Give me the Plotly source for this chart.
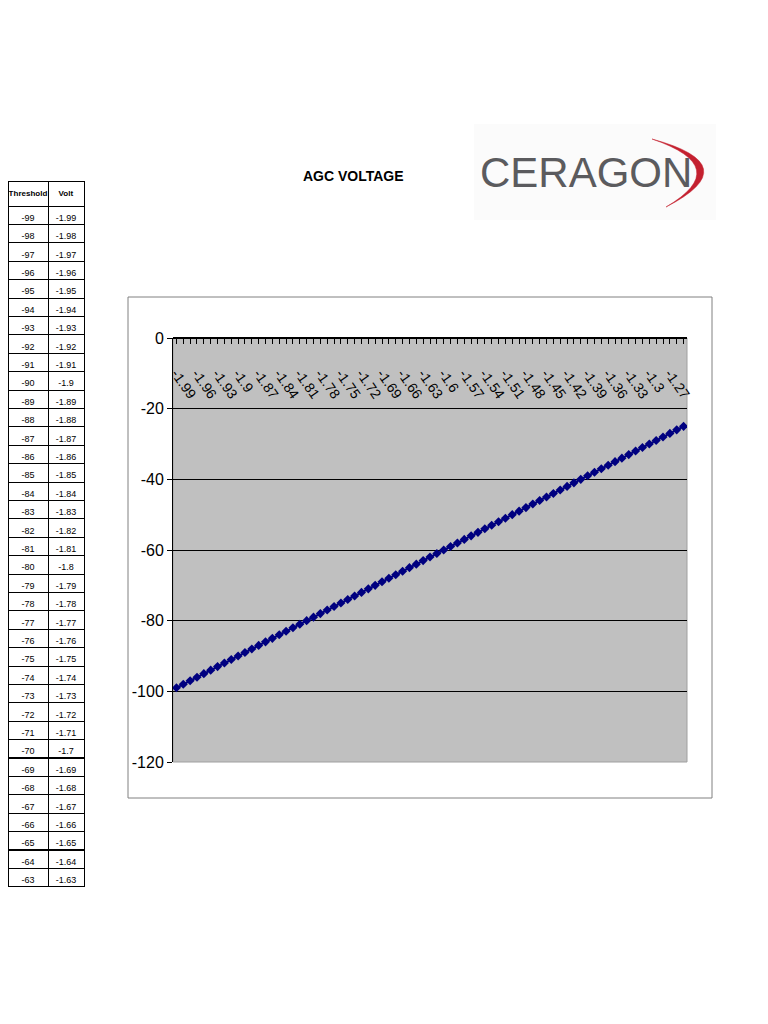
"""AGC voltage chart with threshold table and logo"""
import plotly.graph_objects as go

# chart series: volt category vs threshold
volt_cats = [
    "-1.99", "-1.98", "-1.97", "-1.96", "-1.95", "-1.94", "-1.93", "-1.92", "-1.91", "-1.9",
    "-1.89", "-1.88", "-1.87", "-1.86", "-1.85", "-1.84", "-1.83", "-1.82", "-1.81", "-1.8",
    "-1.79", "-1.78", "-1.77", "-1.76", "-1.75", "-1.74", "-1.73", "-1.72", "-1.71", "-1.7",
    "-1.69", "-1.68", "-1.67", "-1.66", "-1.65", "-1.64", "-1.63", "-1.62", "-1.61", "-1.6",
    "-1.59", "-1.58", "-1.57", "-1.56", "-1.55", "-1.54", "-1.53", "-1.52", "-1.51", "-1.5",
    "-1.49", "-1.48", "-1.47", "-1.46", "-1.45", "-1.44", "-1.43", "-1.42", "-1.41", "-1.4",
    "-1.39", "-1.38", "-1.37", "-1.36", "-1.35", "-1.34", "-1.33", "-1.32", "-1.31", "-1.3",
    "-1.29", "-1.28", "-1.27", "-1.26", "-1.25",
]
threshold_vals = [
    -99, -98, -97, -96, -95, -94, -93, -92, -91, -90,
    -89, -88, -87, -86, -85, -84, -83, -82, -81, -80,
    -79, -78, -77, -76, -75, -74, -73, -72, -71, -70,
    -69, -68, -67, -66, -65, -64, -63, -62, -61, -60,
    -59, -58, -57, -56, -55, -54, -53, -52, -51, -50,
    -49, -48, -47, -46, -45, -44, -43, -42, -41, -40,
    -39, -38, -37, -36, -35, -34, -33, -32, -31, -30,
    -29, -28, -27, -26, -25,
]
x_labels = [
    "-1.99", "-1.96", "-1.93", "-1.9", "-1.87", "-1.84", "-1.81", "-1.78", "-1.75",
    "-1.72", "-1.69", "-1.66", "-1.63", "-1.6", "-1.57", "-1.54", "-1.51", "-1.48",
    "-1.45", "-1.42", "-1.39", "-1.36", "-1.33", "-1.3", "-1.27",
]
y_ticks = [-120, -100, -80, -60, -40, -20, 0]
y_tick_text = ["-120", "-100", "-80", "-60", "-40", "-20", "0"]

# side table
table_threshold = [
    -99, -98, -97, -96, -95, -94, -93, -92, -91, -90, -89, -88, -87, -86, -85, -84,
    -83, -82, -81, -80, -79, -78, -77, -76, -75, -74, -73, -72, -71, -70, -69, -68,
    -67, -66, -65, -64, -63,
]
table_volt = [
    "-1.99", "-1.98", "-1.97", "-1.96", "-1.95", "-1.94", "-1.93", "-1.92", "-1.91", "-1.9",
    "-1.89", "-1.88", "-1.87", "-1.86", "-1.85", "-1.84", "-1.83", "-1.82", "-1.81", "-1.8",
    "-1.79", "-1.78", "-1.77", "-1.76", "-1.75", "-1.74", "-1.73", "-1.72", "-1.71", "-1.7",
    "-1.69", "-1.68", "-1.67", "-1.66", "-1.65", "-1.64", "-1.63",
]

W, H = 768, 1024
OFF = 8  # page body margin
FONT = "Liberation Sans, Arial, sans-serif"


def px(x):
    return max(0, (x - OFF) / W)


def py(y):
    return 1 - (y - OFF) / H


plot_x = [px(173), px(687)]
plot_y = [py(762), py(338)]

fig = go.Figure()

fig.add_trace(go.Table(
    domain=dict(x=[0, px(84)], y=[py(900), py(181)]),
    columnwidth=[40, 36],
    header=dict(
        values=["<b>Threshold</b>", "<b>Volt</b>"],
        height=18,
        line=dict(color="black", width=1),
        fill_color="white",
        font=dict(family=FONT, size=8, color="black"),
        align="center",
    ),
    cells=dict(
        values=[table_threshold, table_volt],
        height=18.4,
        line=dict(color="black", width=1),
        fill_color="white",
        font=dict(family=FONT, size=9, color="black"),
        align="center",
    ),
))

fig.add_trace(go.Scatter(
    x=volt_cats,
    y=threshold_vals,
    mode="lines+markers",
    line=dict(color="#000080", width=2),
    marker=dict(symbol="diamond", size=7, color="#000080"),
    hoverinfo="skip",
    showlegend=False,
))

label_set = set(x_labels)
fig.update_xaxes(
    type="category",
    categoryorder="array",
    categoryarray=volt_cats,
    domain=plot_x,
    anchor="free",
    position=plot_y[1],
    side="bottom",
    automargin=False,
    range=[-0.5, len(volt_cats) - 0.5],
    tickmode="array",
    tickvals=volt_cats,
    ticktext=[c if c in label_set else "" for c in volt_cats],
    tickangle=55,
    ticks="outside",
    ticklen=5,
    tickcolor="black",
    ticklabelstandoff=16,
    tickfont=dict(family=FONT, size=14, color="black"),
    showline=True,
    linecolor="black",
    linewidth=2,
    showgrid=False,
    zeroline=False,
)
fig.update_yaxes(
    domain=plot_y,
    range=[-120, 0],
    automargin=False,
    tickmode="array",
    tickvals=y_ticks,
    ticktext=y_tick_text,
    ticks="outside",
    ticklen=5,
    tickcolor="black",
    tickfont=dict(family=FONT, size=16, color="black"),
    showline=True,
    linecolor="black",
    linewidth=1,
    showgrid=True,
    gridcolor="black",
    gridwidth=1,
    zeroline=False,
)

# chart frame and plot area edge
fig.add_shape(type="rect", xref="paper", yref="paper",
              x0=px(128), x1=px(712), y0=py(798), y1=py(297),
              line=dict(color="#808080", width=1), layer="below")
fig.add_shape(type="rect", xref="paper", yref="paper",
              x0=plot_x[0], x1=plot_x[1], y0=plot_y[0], y1=plot_y[1],
              line=dict(color="#a0a0a0", width=1), layer="below")

# logo
fig.add_shape(type="rect", xref="paper", yref="paper",
              x0=px(474), x1=px(716), y0=py(220), y1=py(124),
              fillcolor="#fbfbfb", line=dict(width=0), layer="below")
arc = (f"M {px(652)},{py(139)} Q {px(748)},{py(165)} {px(666)},{py(207)} "
       f"Q {px(734)},{py(167)} {px(652)},{py(139)} Z")
fig.add_shape(type="path", xref="paper", yref="paper", path=arc,
              fillcolor="#c4202f", line=dict(color="#c4202f", width=0.5))
fig.add_annotation(
    text="CERAGON", xref="paper", yref="paper", x=px(586), y=py(172),
    showarrow=False, xanchor="center", yanchor="middle",
    font=dict(family=FONT, size=42, color="#5b5b5e"),
)

fig.add_annotation(
    text="<b>AGC VOLTAGE</b>", xref="paper", yref="paper", x=px(353), y=py(176),
    showarrow=False, xanchor="center", yanchor="middle",
    font=dict(family=FONT, size=14, color="black"),
)

fig.update_layout(
    width=W,
    height=H,
    margin=dict(l=0, r=0, t=0, b=0),
    paper_bgcolor="white",
    plot_bgcolor="#c0c0c0",
    showlegend=False,
)

fig.write_html("out.html")
